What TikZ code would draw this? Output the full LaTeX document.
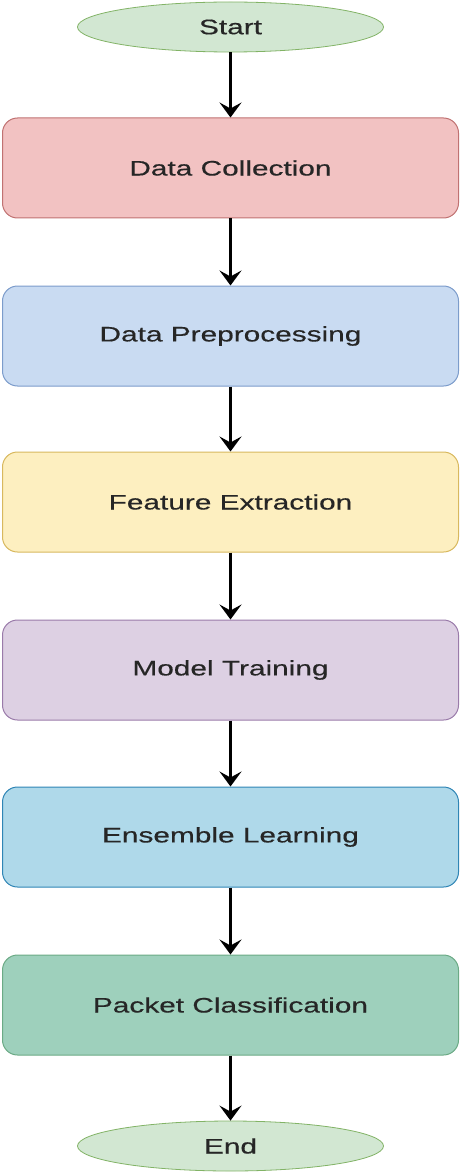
\documentclass[tikz,border=0pt]{standalone}
\usepackage{fontspec}
\setmainfont[FakeStretch=1.42,FakeBold=0.4]{Liberation Sans}
\usetikzlibrary{arrows.meta,shapes.geometric}
\definecolor{txt}{HTML}{262626}
\definecolor{ovfill}{HTML}{D2E7D2}\definecolor{ovdraw}{HTML}{82B366}
\definecolor{f1}{HTML}{F2C2C2}\definecolor{d1}{HTML}{C07272}
\definecolor{f2}{HTML}{C9DBF2}\definecolor{d2}{HTML}{7C9CCB}
\definecolor{f3}{HTML}{FDEFC0}\definecolor{d3}{HTML}{D8B85E}
\definecolor{f4}{HTML}{DDD0E3}\definecolor{d4}{HTML}{9A7BAA}
\definecolor{f5}{HTML}{AFD9EA}\definecolor{d5}{HTML}{2F85B5}
\definecolor{f6}{HTML}{9ED0BC}\definecolor{d6}{HTML}{6BAA85}
\begin{document}
\begin{tikzpicture}[x=1pt,y=-1pt,
  every node/.style={font=\fontsize{21}{25}\selectfont, text=txt},
  terminal/.style={ellipse, fill=ovfill, draw=ovdraw, line width=0.8pt, minimum width=306pt, minimum height=50pt, inner sep=0pt},
  stepbox/.style={rectangle, rounded corners=15pt, line width=1pt, minimum width=456pt, minimum height=100pt, inner sep=0pt},
  flow/.style={-{Stealth[length=15pt,width=22pt,inset=6pt]}, line width=2.5pt, black}
]
\useasboundingbox (0,0) rectangle (461,1174);
\node[terminal] (start) at (230.5,27) {Start};
\node[stepbox, fill=f1, draw=d1] (b1) at (230.5,168) {Data Collection};
\node[stepbox, fill=f2, draw=d2] (b2) at (230.5,336) {Data Preprocessing};
\node[stepbox, fill=f3, draw=d3] (b3) at (230.5,502) {Feature Extraction};
\node[stepbox, fill=f4, draw=d4] (b4) at (230.5,670) {Model Training};
\node[stepbox, fill=f5, draw=d5] (b5) at (230.5,837) {Ensemble Learning};
\node[stepbox, fill=f6, draw=d6] (b6) at (230.5,1005) {Packet Classification};
\node[terminal] (end) at (230.5,1146) {End};
\draw[flow] (start) -- (b1);
\draw[flow] (b1) -- (b2);
\draw[flow] (b2) -- (b3);
\draw[flow] (b3) -- (b4);
\draw[flow] (b4) -- (b5);
\draw[flow] (b5) -- (b6);
\draw[flow] (b6) -- (end);
\end{tikzpicture}
\end{document}
